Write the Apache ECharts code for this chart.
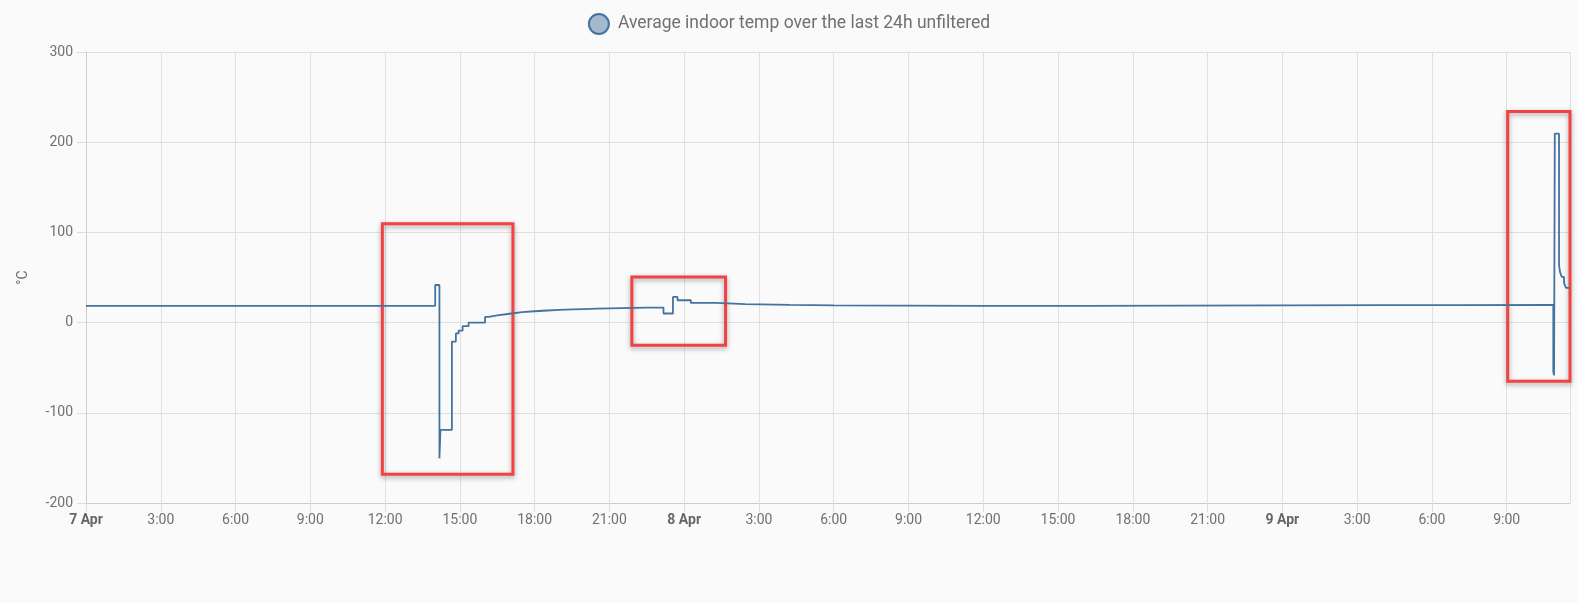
<!DOCTYPE html>
<html>
<head>
<meta charset="utf-8">
<style>
  html, body { margin: 0; padding: 0; background: #fafafa; }
  #chart { width: 1578px; height: 603px; }
</style>
<script src="https://cdn.jsdelivr.net/npm/echarts@6/dist/echarts.min.js"></script>
</head>
<body>
<div id="chart"></div>
<script>
// hours since 7 Apr 00:00
const hours = [0, 14.01, 14.18, 14.22, 14.68, 14.84, 14.95, 15.11, 15.35, 16.01, 16.15, 16.5, 17.0, 17.5, 18.0, 18.5, 19.0, 19.5, 20.0, 20.5, 21.0, 21.5, 22.0, 22.5,
  23.17, 23.55, 23.73, 24.27, 25.28, 26.45, 28.25, 30, 32.9, 36, 40, 44, 48, 52, 55,
  58.87, 58.9, 58.93, 59.1, 59.14, 59.21, 59.3, 59.38, 59.54];
const temps = [18.6, 41.7, -150.5, -119, -21, -12, -9, -4, 0, 6.3, 8, 9.8, 11.5, 12.6, 13.4, 14.0, 14.6, 15.0, 15.4, 15.7, 16.0, 16.3, 16.5, 16.7,
  10.1, 28.5, 24.8, 21.8, 20.4, 19.6, 19.1, 18.9, 18.5, 18.6, 18.9, 19.1, 19.3, 19.4, 19.6,
  -54.6, -58.3, 209.4, 63.6, 56, 50.6, 44, 38.4, 38.4];
const dayLabels = ['7 Apr', '8 Apr', '9 Apr'];
const seriesName = 'Average indoor temp over the last 24h unfiltered';
// highlighted regions: [startHour, topValue, endHour, bottomValue]
const boxes = [
  [11.89, 109.7, 17.13, -168.2],
  [21.9, 50.6, 25.66, -25],
  [57.04, 234, 59.8, -64.9]
];

const chart = echarts.init(document.getElementById('chart'));
const textColor = '#707070';

chart.setOption({
  backgroundColor: '#fafafa',
  textStyle: { fontFamily: 'Roboto' },
  animation: false,
  legend: {
    top: 8,
    left: 'center',
    icon: 'circle',
    itemWidth: 20,
    itemHeight: 20,
    itemGap: 8,
    textStyle: { color: textColor, fontSize: 17.5, fontFamily: 'Roboto', padding: [0, 0, 0, 4] },
    data: [seriesName]
  },
  grid: { left: 86, right: 8, top: 52, bottom: 100 },
  xAxis: {
    type: 'value',
    min: 0,
    max: 59.54,
    interval: 3,
    axisLine: { onZero: false, lineStyle: { color: '#cccccc' } },
    axisTick: { length: 9, lineStyle: { color: '#dddddd' } },
    splitLine: { show: true, lineStyle: { color: '#e0e0e0' } },
    axisLabel: {
      color: textColor,
      fontSize: 14,
      margin: 10,
      showMaxLabel: false,
      formatter: function (v) {
        if (Math.abs(v - Math.round(v)) > 1e-6 || v % 3 !== 0) return '';
        if (v % 24 === 0) return '{b|' + dayLabels[v / 24] + '}';
        return (v % 24) + ':00';
      },
      rich: { b: { fontWeight: 'bold', fontSize: 14, color: '#666' } }
    }
  },
  yAxis: {
    type: 'value',
    min: -200,
    max: 300,
    interval: 100,
    name: '°C',
    nameLocation: 'middle',
    nameGap: 56,
    nameTextStyle: { color: textColor, fontSize: 14 },
    axisLine: { show: true, lineStyle: { color: '#cccccc' } },
    axisTick: { show: true, length: 9, lineStyle: { color: '#dddddd' } },
    splitLine: { lineStyle: { color: '#e0e0e0' } },
    axisLabel: { color: textColor, fontSize: 14, margin: 13 }
  },
  series: [{
    name: seriesName,
    type: 'line',
    step: 'end',
    showSymbol: false,
    clip: false,
    data: hours.map((h, i) => [h, temps[i]]),
    lineStyle: { color: '#44739e', width: 1.8 },
    itemStyle: { color: 'rgba(68,115,158,0.48)', borderColor: '#44739e', borderWidth: 1 },
    markArea: {
      silent: true,
      itemStyle: {
        color: 'rgba(0,0,0,0)',
        borderColor: '#f24242',
        borderWidth: 3,
        shadowColor: 'rgba(0,0,0,0.35)',
        shadowBlur: 5,
        shadowOffsetY: 2
      },
      data: boxes.map(b => [{ coord: [b[0], b[1]] }, { coord: [b[2], b[3]] }])
    }
  }]
});
</script>
</body>
</html>
